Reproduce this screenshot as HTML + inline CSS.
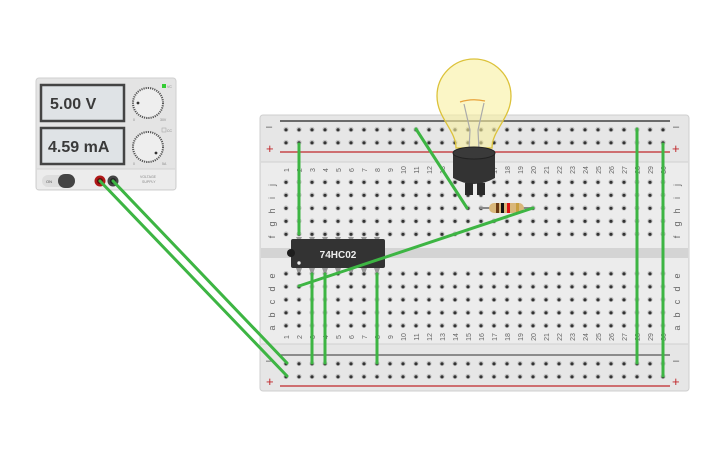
<!DOCTYPE html>
<html><head><meta charset="utf-8"><style>
html,body{margin:0;padding:0;background:#fff;width:725px;height:453px;overflow:hidden}
svg{display:block}
text{font-family:"Liberation Sans",sans-serif}
</style></head><body>
<svg width="725" height="453" viewBox="0 0 725 453" xmlns="http://www.w3.org/2000/svg">
<defs>
<pattern id="h" patternUnits="userSpaceOnUse" x="279.5" y="175.5" width="13" height="13">
<circle cx="6.5" cy="6.5" r="2.6" fill="#c4c4c4"/><circle cx="6.5" cy="6.8" r="1.6" fill="#333"/>
</pattern>
</defs>
<!-- breadboard -->
<rect x="260" y="115" width="429" height="276" rx="3" fill="#e6e6e6" stroke="#cfcfcf"/>
<rect x="261" y="162" width="427" height="86" fill="#ececec"/>
<rect x="261" y="258" width="427" height="86" fill="#ececec"/>
<rect x="261" y="248" width="427" height="10" fill="#d4d4d4"/>
<line x1="261" y1="162" x2="688" y2="162" stroke="#d0d0d0"/>
<line x1="261" y1="344" x2="688" y2="344" stroke="#d0d0d0"/>
<line x1="280" y1="121" x2="670" y2="121" stroke="#222" stroke-width="1.3"/>
<line x1="280" y1="152" x2="670" y2="152" stroke="#c0262a" stroke-width="1.3"/>
<line x1="280" y1="355" x2="670" y2="355" stroke="#555" stroke-width="1.3"/>
<line x1="280" y1="386" x2="670" y2="386" stroke="#c0262a" stroke-width="1.3"/>
<rect x="279.5" y="123" width="390" height="26" fill="url(#h)" transform="translate(0,-0.5)"/>
<g transform="translate(0,-52.5)"><rect x="279.5" y="175.5" width="390" height="26" fill="url(#h)"/></g>
<rect x="279.5" y="175.5" width="390" height="65" fill="url(#h)"/>
<g transform="translate(0,91.5)"><rect x="279.5" y="175.5" width="390" height="65" fill="url(#h)"/></g>
<g transform="translate(0,181.5)"><rect x="279.5" y="175.5" width="390" height="26" fill="url(#h)"/></g>
<g font-size="11" fill="#555">
<text x="266" y="130">–</text><text x="266" y="153" fill="#c0262a" font-size="13">+</text>
<text x="673" y="130">–</text><text x="672" y="153" fill="#c0262a" font-size="13">+</text>
<text x="266" y="364">–</text><text x="266" y="386" fill="#c0262a" font-size="13">+</text>
<text x="673" y="364">–</text><text x="672" y="386" fill="#c0262a" font-size="13">+</text>
</g>
<g font-size="9" fill="#666" text-anchor="middle">
<text transform="translate(275,185) rotate(-90)">j</text><text transform="translate(275,198) rotate(-90)">i</text><text transform="translate(275,211) rotate(-90)">h</text><text transform="translate(275,224) rotate(-90)">g</text><text transform="translate(275,237) rotate(-90)">f</text>
<text transform="translate(275,276) rotate(-90)">e</text><text transform="translate(275,289) rotate(-90)">d</text><text transform="translate(275,302) rotate(-90)">c</text><text transform="translate(275,315) rotate(-90)">b</text><text transform="translate(275,328) rotate(-90)">a</text>
<text transform="translate(680,185) rotate(-90)">j</text><text transform="translate(680,198) rotate(-90)">i</text><text transform="translate(680,211) rotate(-90)">h</text><text transform="translate(680,224) rotate(-90)">g</text><text transform="translate(680,237) rotate(-90)">f</text>
<text transform="translate(680,276) rotate(-90)">e</text><text transform="translate(680,289) rotate(-90)">d</text><text transform="translate(680,302) rotate(-90)">c</text><text transform="translate(680,315) rotate(-90)">b</text><text transform="translate(680,328) rotate(-90)">a</text>
</g>
<g font-size="7" fill="#666" text-anchor="middle">
<g transform="translate(0,170)">
<text transform="translate(289,0) rotate(-90)">1</text><text transform="translate(302,0) rotate(-90)">2</text><text transform="translate(315,0) rotate(-90)">3</text><text transform="translate(328,0) rotate(-90)">4</text><text transform="translate(341,0) rotate(-90)">5</text><text transform="translate(354,0) rotate(-90)">6</text><text transform="translate(367,0) rotate(-90)">7</text><text transform="translate(380,0) rotate(-90)">8</text><text transform="translate(393,0) rotate(-90)">9</text><text transform="translate(406,0) rotate(-90)">10</text><text transform="translate(419,0) rotate(-90)">11</text><text transform="translate(432,0) rotate(-90)">12</text><text transform="translate(445,0) rotate(-90)">13</text><text transform="translate(458,0) rotate(-90)">14</text><text transform="translate(471,0) rotate(-90)">15</text><text transform="translate(484,0) rotate(-90)">16</text><text transform="translate(497,0) rotate(-90)">17</text><text transform="translate(510,0) rotate(-90)">18</text><text transform="translate(523,0) rotate(-90)">19</text><text transform="translate(536,0) rotate(-90)">20</text><text transform="translate(549,0) rotate(-90)">21</text><text transform="translate(562,0) rotate(-90)">22</text><text transform="translate(575,0) rotate(-90)">23</text><text transform="translate(588,0) rotate(-90)">24</text><text transform="translate(601,0) rotate(-90)">25</text><text transform="translate(614,0) rotate(-90)">26</text><text transform="translate(627,0) rotate(-90)">27</text><text transform="translate(640,0) rotate(-90)">28</text><text transform="translate(653,0) rotate(-90)">29</text><text transform="translate(666,0) rotate(-90)">30</text>
</g>
<g transform="translate(0,337)">
<text transform="translate(289,0) rotate(-90)">1</text><text transform="translate(302,0) rotate(-90)">2</text><text transform="translate(315,0) rotate(-90)">3</text><text transform="translate(328,0) rotate(-90)">4</text><text transform="translate(341,0) rotate(-90)">5</text><text transform="translate(354,0) rotate(-90)">6</text><text transform="translate(367,0) rotate(-90)">7</text><text transform="translate(380,0) rotate(-90)">8</text><text transform="translate(393,0) rotate(-90)">9</text><text transform="translate(406,0) rotate(-90)">10</text><text transform="translate(419,0) rotate(-90)">11</text><text transform="translate(432,0) rotate(-90)">12</text><text transform="translate(445,0) rotate(-90)">13</text><text transform="translate(458,0) rotate(-90)">14</text><text transform="translate(471,0) rotate(-90)">15</text><text transform="translate(484,0) rotate(-90)">16</text><text transform="translate(497,0) rotate(-90)">17</text><text transform="translate(510,0) rotate(-90)">18</text><text transform="translate(523,0) rotate(-90)">19</text><text transform="translate(536,0) rotate(-90)">20</text><text transform="translate(549,0) rotate(-90)">21</text><text transform="translate(562,0) rotate(-90)">22</text><text transform="translate(575,0) rotate(-90)">23</text><text transform="translate(588,0) rotate(-90)">24</text><text transform="translate(601,0) rotate(-90)">25</text><text transform="translate(614,0) rotate(-90)">26</text><text transform="translate(627,0) rotate(-90)">27</text><text transform="translate(640,0) rotate(-90)">28</text><text transform="translate(653,0) rotate(-90)">29</text><text transform="translate(666,0) rotate(-90)">30</text>
</g>
</g>

<!-- power supply -->
<rect x="36" y="78" width="140" height="112" rx="3" fill="#e4e4e4" stroke="#cfcfcf"/>
<rect x="37" y="169" width="138" height="20" fill="#ececec"/>
<line x1="37" y1="169" x2="175" y2="169" stroke="#d2d2d2"/>
<rect x="41" y="85" width="83" height="36" fill="#dfe3e6" stroke="#444" stroke-width="2.5"/>
<rect x="41" y="128" width="83" height="36" fill="#dfe3e6" stroke="#444" stroke-width="2.5"/>
<text x="50" y="109" font-size="16" font-weight="bold" fill="#3a3a3a">5.00 V</text>
<text x="48" y="152" font-size="16" font-weight="bold" fill="#3a3a3a">4.59 mA</text>
<circle cx="148" cy="103" r="15" fill="#eee" stroke="#555" stroke-width="2" stroke-dasharray="1.2 1"/>
<circle cx="138" cy="103" r="1.4" fill="#333"/>
<circle cx="148" cy="147" r="15" fill="#eee" stroke="#555" stroke-width="2" stroke-dasharray="1.2 1"/>
<circle cx="156" cy="153" r="1.4" fill="#333"/>
<rect x="162" y="84" width="4" height="4" fill="#3c3"/>
<rect x="162" y="128" width="4" height="4" fill="none" stroke="#aaa" stroke-width=".6"/>
<g font-size="3.5" fill="#888"><text x="167" y="88">VC</text><text x="167" y="132">CC</text><text x="133" y="121">0</text><text x="160" y="121">30V</text><text x="133" y="165">0</text><text x="162" y="165">5A</text><text x="140" y="178">VOLTAGE</text><text x="142" y="183">SUPPLY</text></g>
<rect x="42" y="175" width="33" height="12" rx="6" fill="#ddd"/>
<rect x="58" y="174" width="17" height="14" rx="7" fill="#444"/>
<text x="46" y="183" font-size="4" fill="#555">ON</text>
<circle cx="100" cy="181" r="5.5" fill="#b01818"/><circle cx="100" cy="181" r="3" fill="#5a0b0b"/>
<circle cx="113" cy="181" r="5.5" fill="#444"/><circle cx="113" cy="181" r="3" fill="#222"/>

<!-- chip -->
<g fill="#999">
<path d="M296 237h6l-1.5 3h-3z M309 237h6l-1.5 3h-3z M322 237h6l-1.5 3h-3z M335 237h6l-1.5 3h-3z M348 237h6l-1.5 3h-3z M361 237h6l-1.5 3h-3z M374 237h6l-1.5 3h-3z"/>
<path d="M296 268h6l-1.5 4h-3z M309 268h6l-1.5 4h-3z M322 268h6l-1.5 4h-3z M335 268h6l-1.5 4h-3z M348 268h6l-1.5 4h-3z M361 268h6l-1.5 4h-3z M374 268h6l-1.5 4h-3z"/>
</g>
<rect x="291" y="239" width="94" height="29" rx="2" fill="#333"/>
<circle cx="291" cy="253" r="4" fill="#1e1e1e"/>
<circle cx="299" cy="263" r="1.7" fill="#eee"/>
<text x="338" y="258" font-size="10" font-family="Liberation Mono,monospace" fill="#eee" text-anchor="middle" font-weight="bold">74HC02</text>

<!-- resistor -->
<line x1="480" y1="208" x2="534" y2="208" stroke="#888" stroke-width="2"/>
<rect x="489" y="203" width="35" height="10" rx="5" fill="#d9b77a"/>
<rect x="496" y="203" width="3" height="10" fill="#6b3a12"/>
<rect x="501" y="203" width="3" height="10" fill="#111"/>
<rect x="507" y="203" width="3" height="10" fill="#d11"/>
<rect x="516" y="203" width="3" height="10" fill="#c9a040"/>

<!-- wires -->
<g stroke="#3db543" stroke-width="3" stroke-linecap="round" fill="none">
<line x1="100" y1="181" x2="287" y2="376"/>
<line x1="113" y1="181" x2="287" y2="363"/>
<line x1="299" y1="144" x2="299" y2="234"/>
<line x1="416" y1="129" x2="467" y2="208"/>
<line x1="533" y1="208" x2="299" y2="286"/>
<line x1="312" y1="274" x2="312" y2="363"/>
<line x1="325" y1="274" x2="325" y2="363"/>
<line x1="377" y1="274" x2="377" y2="363"/>
<line x1="637" y1="129" x2="637" y2="363"/>
<line x1="663" y1="144" x2="663" y2="376"/>
</g>

<!-- bulb -->
<path d="M456 148 C456 130 437 118 437 96 A37 37 0 1 1 511 96 C511 118 492 130 492 148 Z" fill="#f9f0a0" fill-opacity=".6" stroke="#dcc23a" stroke-width="1.3"/>
<path d="M464 104 L470 130 L469 150 M484 103 L478 130 L479 150" stroke="#aaa" stroke-width="1.2" fill="none"/>
<path d="M460 102 Q472 98 485 101" stroke="#e8a23a" stroke-width="1.2" fill="none"/>
<path d="M453 153 L453 178 Q474 190 495 178 L495 153 Z" fill="#333"/>
<ellipse cx="474" cy="153" rx="21" ry="6" fill="#3a3a3a" stroke="#222"/>
<rect x="465" y="183" width="8" height="12" fill="#2a2a2a"/>
<rect x="477" y="183" width="8" height="12" fill="#2a2a2a"/>
</svg>
</body></html>
